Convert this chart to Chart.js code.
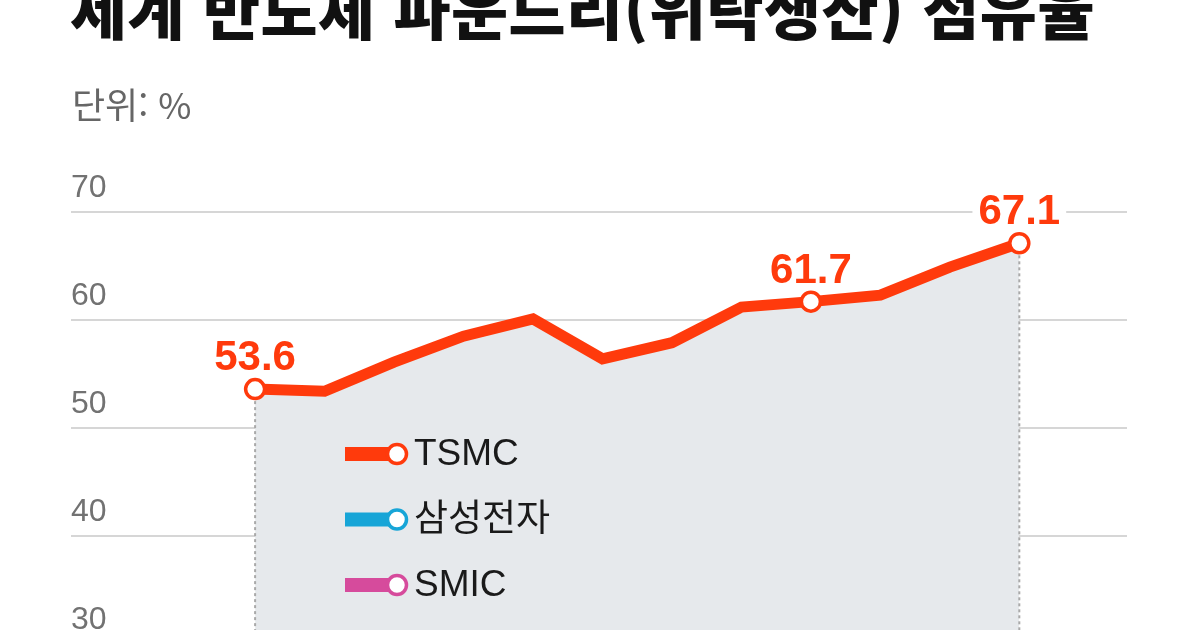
<!DOCTYPE html>
<html lang="ko">
<head>
<meta charset="utf-8">
<title>세계 반도체 파운드리(위탁생산) 점유율</title>
<script src="https://cdn.jsdelivr.net/npm/chart.js@4.4.1/dist/chart.umd.min.js"></script>
<style>
  html, body { margin: 0; padding: 0; width: 1200px; height: 630px; overflow: hidden; background: #fff; }
  #title { position: absolute; left: 70px; top: -37px; z-index: 2; white-space: nowrap; line-height: 1;
           font: 900 62px "Noto Sans CJK KR", sans-serif; color: #111; letter-spacing: 0.5px; }
  #unit { position: absolute; left: 72px; top: 77px; z-index: 2; line-height: 1;
          font: 400 36px "Noto Sans CJK KR", sans-serif; color: #666; }
  #wrap { position: absolute; left: 0; top: 0; width: 1200px; height: 1000px; }
</style>
</head>
<body>
<div id="title">세계 반도체 파운드리(위탁생산) 점유율</div>
<div id="unit">단위: %</div>
<div id="wrap"><canvas id="chart"></canvas></div>
<script>
// quarterly foundry market share (%), only TSMC falls inside the visible crop
const quarters = ['22.1Q','22.2Q','22.3Q','22.4Q','23.1Q','23.2Q','23.3Q','23.4Q','24.1Q','24.2Q','24.3Q','24.4Q'];
const tsmcShare = [53.6, 53.4, 56.1, 58.5, 60.1, 56.4, 57.9, 61.2, 61.7, 62.3, 64.9, 67.1];
const samsungShare = [];   // lines lie below the cropped area
const smicShare = [];
const yTicks = [0, 10, 20, 30, 40, 50, 60, 70];
const labeledPoints = [0, 8, 11];

const RED = '#ff3a0c';
const BLUE = '#17a5d7';
const PINK = '#d64b9c';
const LABEL_FONT = '"Liberation Sans", Arial, "Noto Sans CJK KR", sans-serif';

const toXY = arr => arr.map((v, i) => ({ x: i, y: v }));

// value labels, dotted edge lines and the boxed legend
const annotations = {
  id: 'annotations',
  afterDatasetsDraw(chart) {
    const ctx = chart.ctx;
    const area = chart.chartArea;
    const pts = chart.getDatasetMeta(0).data;
    ctx.save();

    // dotted verticals at first / last point
    ctx.strokeStyle = '#a9a9a9';
    ctx.lineWidth = 2;
    ctx.setLineDash([3, 3]);
    [pts[0], pts[pts.length - 1]].forEach(p => {
      ctx.beginPath();
      ctx.moveTo(p.x, p.y + 12);
      ctx.lineTo(p.x, area.bottom);
      ctx.stroke();
    });
    ctx.setLineDash([]);

    // value labels
    ctx.font = 'bold 42px ' + LABEL_FONT;
    ctx.textAlign = 'center';
    ctx.textBaseline = 'alphabetic';
    labeledPoints.forEach(i => {
      const p = pts[i];
      const txt = tsmcShare[i].toFixed(1);
      const w = ctx.measureText(txt).width;
      const base = p.y - 19;
      ctx.fillStyle = '#fff';
      ctx.fillRect(p.x - w / 2 - 6, base - 34, w + 12, 37);
      ctx.fillStyle = RED;
      ctx.fillText(txt, p.x, base);
    });

    // legend
    ctx.textAlign = 'left';
    ctx.textBaseline = 'middle';
    ctx.font = '37px ' + LABEL_FONT;
    chart.data.datasets.forEach((ds, k) => {
      const y = 454 + k * 65.5;
      ctx.strokeStyle = ds.borderColor;
      ctx.lineWidth = 14;
      ctx.beginPath();
      ctx.moveTo(345, y);
      ctx.lineTo(392, y);
      ctx.stroke();
      ctx.beginPath();
      ctx.arc(397, y, 9.5, 0, Math.PI * 2);
      ctx.fillStyle = '#fff';
      ctx.fill();
      ctx.lineWidth = 3.5;
      ctx.stroke();
      ctx.fillStyle = '#1a1a1a';
      ctx.fillText(ds.label, 414, y + 1);
    });
    ctx.restore();
  }
};

new Chart(document.getElementById('chart'), {
  type: 'line',
  data: {
    labels: quarters,
    datasets: [
      {
        label: 'TSMC',
        data: toXY(tsmcShare),
        borderColor: RED,
        borderWidth: 11,
        borderJoinStyle: 'miter',
        backgroundColor: '#e6e9ec',
        fill: 'origin',
        tension: 0,
        pointRadius: c => labeledPoints.includes(c.dataIndex) ? 9.5 : 0,
        pointBackgroundColor: '#fff',
        pointBorderColor: RED,
        pointBorderWidth: 3.5
      },
      { label: '삼성전자', data: toXY(samsungShare), borderColor: BLUE, borderWidth: 11, pointRadius: 0 },
      { label: 'SMIC', data: toXY(smicShare), borderColor: PINK, borderWidth: 11, pointRadius: 0 }
    ]
  },
  options: {
    responsive: true,
    maintainAspectRatio: false,
    animation: false,
    layout: { padding: { top: 212, left: 71, right: 73, bottom: 32 } },
    plugins: { legend: { display: false }, tooltip: { enabled: false } },
    scales: {
      x: { type: 'linear', min: -2.65, max: 12.55, display: false },
      y: {
        min: 0, max: 70,
        afterBuildTicks: s => { s.ticks = yTicks.map(v => ({ value: v })); },
        border: { display: false },
        grid: { color: '#d6d6d6', lineWidth: 2, drawTicks: false },
        ticks: {
          mirror: true, padding: 0, labelOffset: -24,
          color: '#727272',
          font: { family: LABEL_FONT, size: 32 }
        }
      }
    }
  },
  plugins: [annotations]
});
</script>
</body>
</html>
